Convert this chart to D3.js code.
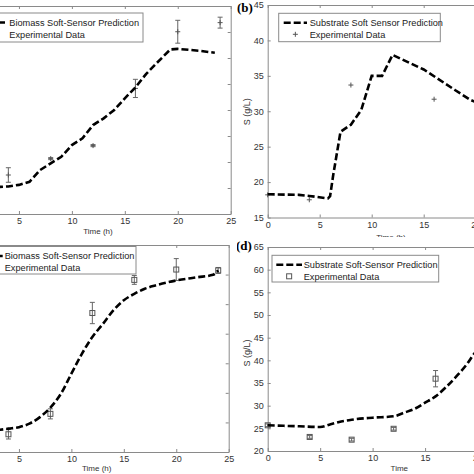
<!DOCTYPE html>
<html>
<head>
<meta charset="utf-8">
<script src="https://cdn.jsdelivr.net/npm/d3@7"></script>
<style>
  body { margin: 0; background: #fff; }
  svg { display: block; font-family: 'Liberation Sans', Arial, sans-serif; }
  .axis path, .axis line { stroke: #8a8a8a; }
  .axis text { fill: #333; font-size: 9px; }
</style>
</head>
<body>
<svg id="chart" width="474" height="474"></svg>
<script>
  /* data */
  const timeTicks = [0, 5, 10, 15, 20, 25]

  // (a) biomass, run 1
  const predTimeA = [0, 2, 4, 5, 6, 7, 8, 9, 10, 11, 12, 13, 14, 15, 16, 17, 18, 19.3, 20, 22, 23.5]
  const predA = [1.0, 1.02, 1.06, 1.12, 1.24, 1.69, 1.95, 2.2, 2.65, 2.91, 3.42, 3.68, 4.0, 4.45, 4.87, 5.38, 5.8, 6.33, 6.35, 6.28, 6.2]
  const expTimeA = [0, 4, 8, 12, 16, 20, 24]
  const expA = [1.0, 1.5, 2.13, 2.63, 4.83, 7.01, 7.36]
  const errA = [0.1, 0.28, 0.04, 0.04, 0.35, 0.44, 0.21]
  const yTicksA = [0, 1, 2, 3, 4, 5, 6, 7, 8]

  // (b) substrate, run 1
  const predTimeB = [0, 3, 4, 5.8, 6, 6.3, 6.6, 7, 8, 9, 10, 11, 12, 15, 18, 19.5, 22, 24]
  const predB = [18.28, 18.2, 18.04, 17.7, 18.0, 21.0, 23.6, 27.1, 28.1, 30.2, 35.0, 35.0, 37.95, 35.9, 33.0, 31.6, 30.0, 29.0]
  const expTimeB = [0, 4, 8, 16]
  const expB = [18.2, 17.5, 33.7, 31.7]
  const yTicksB = [15, 20, 25, 30, 35, 40, 45]

  // (c) biomass, run 2
  const predTimeC = [0, 2, 3.2, 4, 5, 6, 7, 8, 9, 10, 11, 12, 13, 14, 15, 16, 17, 18, 20, 22, 23.5, 24]
  const predC = [0.62, 0.7, 0.75, 0.79, 0.84, 0.96, 1.18, 1.5, 1.97, 2.65, 3.32, 3.89, 4.33, 4.79, 5.13, 5.35, 5.52, 5.63, 5.8, 5.91, 5.99, 6.14]
  const expTimeC = [0, 4, 8, 12, 16, 20, 24]
  const expC = [0.6, 0.6, 1.29, 4.7, 5.82, 6.17, 6.14]
  const errC = [0.1, 0.16, 0.17, 0.36, 0.15, 0.37, 0.1]
  const yTicksC = [0, 1, 2, 3, 4, 5, 6, 7]

  // (d) substrate, run 2
  const predTimeD = [0, 3, 5, 6, 7, 8, 10, 12, 13, 14, 15, 16, 17, 18, 19, 19.6, 20, 22, 24]
  const predD = [25.67, 25.45, 25.3, 25.9, 26.5, 26.9, 27.35, 27.65, 28.45, 29.3, 30.65, 32.05, 34.1, 36.5, 39.2, 41.2, 42.3, 47, 52]
  const expTimeD = [0, 4, 8, 12, 16]
  const expD = [25.67, 23.1, 22.5, 24.9, 35.95]
  const errD = [0.3, 0.3, 0.3, 0.3, 1.8]
  const yTicksD = [20, 25, 30, 35, 40, 45, 50, 55, 60, 65]

  const svg = d3.select('#chart')
  const defs = svg.append('defs')

  const drawPanel = (opts) => {
    const { id, clip, x, y, yTicks } = opts
    defs.append('clipPath').attr('id', 'clip-' + id)
      .append('rect').attr('x', clip[0]).attr('y', clip[1]).attr('width', clip[2]).attr('height', clip[3])
    const g = svg.append('g').attr('clip-path', `url(#clip-${id})`)
    const [x0, x1] = x.range()
    const [y0, y1] = y.range()

    g.append('g').attr('class', 'axis')
      .attr('transform', `translate(0,${y0})`)
      .call(d3.axisBottom(x).tickValues(timeTicks).tickSizeInner(-3).tickSizeOuter(0).tickPadding(4))
    g.append('g').attr('class', 'axis')
      .attr('transform', `translate(0,${y1})`)
      .call(d3.axisTop(x).tickValues(timeTicks).tickSizeInner(-3).tickSizeOuter(0).tickFormat(''))
    // left axis labels of (a) and (c) fall outside the cropped figure, so only draw them where seen
    const left = d3.axisLeft(y).tickValues(yTicks).tickSizeInner(-3).tickSizeOuter(0).tickPadding(4)
    if (!opts.yLabels) left.tickFormat('')
    g.append('g').attr('class', 'axis')
      .attr('transform', `translate(${x0},0)`)
      .call(left)
    g.append('g').attr('class', 'axis')
      .attr('transform', `translate(${x1},0)`)
      .call(d3.axisRight(y).tickValues(yTicks).tickSizeInner(-3).tickSizeOuter(0).tickFormat(''))

    // error bars
    if (opts.err) {
      const cap = 2.5
      const eb = g.append('g').attr('stroke', '#666').attr('stroke-width', 1)
      opts.expT.forEach((t, i) => {
        const cx = x(t), ya = y(opts.expV[i] + opts.err[i]), yb = y(opts.expV[i] - opts.err[i])
        eb.append('line').attr('x1', cx).attr('x2', cx).attr('y1', ya).attr('y2', yb)
        eb.append('line').attr('x1', cx - cap).attr('x2', cx + cap).attr('y1', ya).attr('y2', ya)
        eb.append('line').attr('x1', cx - cap).attr('x2', cx + cap).attr('y1', yb).attr('y2', yb)
      })
    }

    // markers
    const mk = g.append('g').attr('stroke', '#555').attr('fill', 'none').attr('stroke-width', 1)
    opts.expT.forEach((t, i) => {
      const cx = x(t), cy = y(opts.expV[i])
      if (opts.marker === 'plus') {
        mk.append('path').attr('d', `M${cx - 2.5},${cy}h5M${cx},${cy - 2.5}v5`)
      } else {
        mk.append('rect').attr('x', cx - 2.5).attr('y', cy - 2.5).attr('width', 5).attr('height', 5)
      }
    })

    // prediction line
    const line = d3.line()
      .x((d, i) => x(opts.predT[i]))
      .y(d => y(d))
      .curve(opts.smooth ? d3.curveMonotoneX : d3.curveLinear)
    g.append('path')
      .datum(opts.predV)
      .attr('d', line)
      .attr('fill', 'none')
      .attr('stroke', '#000')
      .attr('stroke-width', 2.6)
      .attr('stroke-dasharray', '7,3')

    // legend
    const L = opts.legend
    const lg = g.append('g')
    lg.append('rect').attr('x', L.x).attr('y', L.y).attr('width', L.w).attr('height', L.h)
      .attr('fill', '#fff').attr('stroke', '#8a8a8a').attr('stroke-width', 1)
    lg.append('line').attr('x1', L.lx0).attr('x2', L.lx1).attr('y1', L.y + 9.5).attr('y2', L.y + 9.5)
      .attr('stroke', '#000').attr('stroke-width', 2.6).attr('stroke-dasharray', '7,3')
    lg.append('text').attr('x', L.tx).attr('y', L.y + 12.5).attr('font-size', 9.2).attr('fill', '#222').text(L.t1)
    const mx = (L.lx0 + L.lx1) / 2, my = L.y + 21
    if (opts.marker === 'plus') {
      lg.append('path').attr('d', `M${mx - 2.5},${my}h5M${mx},${my - 2.5}v5`).attr('stroke', '#555')
    } else {
      lg.append('rect').attr('x', mx - 2.5).attr('y', my - 2.5).attr('width', 5).attr('height', 5)
        .attr('fill', 'none').attr('stroke', '#555')
    }
    lg.append('text').attr('x', L.tx).attr('y', L.y + 24.5).attr('font-size', 9.2).attr('fill', '#222').text('Experimental Data')

    // axis titles
    g.append('text').attr('x', opts.xLabel[1]).attr('y', opts.xLabel[2])
      .attr('text-anchor', 'middle').attr('font-size', 8).attr('fill', '#333').text(opts.xLabel[0])
    if (opts.yLabel) {
      g.append('text')
        .attr('transform', `translate(${opts.yLabel[1]},${opts.yLabel[2]}) rotate(-90)`)
        .attr('text-anchor', 'middle').attr('font-size', 9).attr('fill', '#333').text(opts.yLabel[0])
    }
    if (opts.tag) {
      g.append('text').attr('x', opts.tag[1]).attr('y', opts.tag[2])
        .attr('font-family', "'Liberation Serif', 'Times New Roman', serif")
        .attr('font-weight', 'bold').attr('font-size', 13).attr('fill', '#000').text(opts.tag[0])
    }
  }

  drawPanel({
    id: 'a', clip: [0, 0, 237, 237],
    x: d3.scaleLinear().domain([0, 25]).range([-34, 230.7]),
    y: d3.scaleLinear().domain([0, 8]).range([214, 6]),
    yTicks: yTicksA, yLabels: false,
    predT: predTimeA, predV: predA, expT: expTimeA, expV: expA, err: errA,
    marker: 'plus', smooth: false,
    legend: { x: -10, y: 13, w: 153, h: 29, lx0: -12, lx1: 6.7, tx: 9.3, t1: 'Biomass Soft-Sensor Prediction' },
    xLabel: ['Time (h)', 98, 234]
  })

  drawPanel({
    id: 'b', clip: [237, 0, 237, 237],
    x: d3.scaleLinear().domain([0, 25]).range([267.7, 527.7]),
    y: d3.scaleLinear().domain([15, 45]).range([217.5, 5]),
    yTicks: yTicksB, yLabels: true,
    predT: predTimeB, predV: predB, expT: expTimeB, expV: expB,
    marker: 'plus', smooth: false,
    legend: { x: 278.7, y: 13.3, w: 161.6, h: 28.4, lx0: 283.7, lx1: 307, tx: 309.7, t1: 'Substrate Soft Sensor Prediction' },
    xLabel: ['Time (h)', 391, 239.5],
    yLabel: ['S (g/L)', 250, 111.7],
    tag: ['(b)', 237, 11.5]
  })

  drawPanel({
    id: 'c', clip: [0, 237, 237, 237],
    x: d3.scaleLinear().domain([0, 25]).range([-33.5, 228.7]),
    y: d3.scaleLinear().domain([0, 7]).range([452, 245]),
    yTicks: yTicksC, yLabels: false,
    predT: predTimeC, predV: predC, expT: expTimeC, expV: expC, err: errC,
    marker: 'square', smooth: true,
    legend: { x: -10, y: 246.5, w: 146, h: 27.5, lx0: -14, lx1: 2.7, tx: 4.7, t1: 'Biomass Soft-Sensor Prediction' },
    xLabel: ['Time (h)', 96.7, 471]
  })

  drawPanel({
    id: 'd', clip: [237, 237, 237, 237],
    x: d3.scaleLinear().domain([0, 25]).range([267.7, 530]),
    y: d3.scaleLinear().domain([20, 65]).range([451, 247]),
    yTicks: yTicksD, yLabels: true,
    predT: predTimeD, predV: predD, expT: expTimeD, expV: expD, err: errD,
    marker: 'square', smooth: true,
    legend: { x: 272, y: 255.3, w: 166.7, h: 26.7, lx0: 276.3, lx1: 302, tx: 303.7, t1: 'Substrate Soft-Sensor Prediction' },
    xLabel: ['Time', 399.3, 471],
    yLabel: ['S (g/L)', 250, 353],
    tag: ['(d)', 236, 249.5]
  })
</script>
</body>
</html>
